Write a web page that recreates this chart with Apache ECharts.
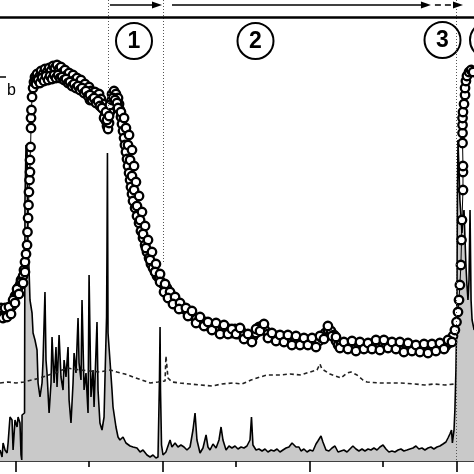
<!DOCTYPE html>
<html>
<head>
<meta charset="utf-8">
<script src="https://cdn.jsdelivr.net/npm/echarts@6/dist/echarts.min.js"></script>
<style>
  html, body { margin: 0; padding: 0; background: #fff; }
  #chart { width: 474px; height: 474px; }
</style>
</head>
<body>
<div id="chart"></div>
<script>
// time axis in scans, signals in arbitrary units
const majorTicks = [0, 100, 200, 300];
const minorTicks = [50, 150, 250];
const phaseLabels = ['1', '2', '3'];
const phaseBounds = [63.1, 100.2, 299.5];

// circles: main trace of the scan
const circleTime = [
  -10.7, -9.3, -8.0, -6.6, -5.2, -3.9, -2.5, -1.2, -0.5, 0.9,
  1.6, 2.9, 3.6, 5.0, 5.6, 6.3, 7.0, 7.7, 8.0, 8.4,
  8.7, 9.0, 9.4, 9.7, 9.7, 10.1, 10.4, 10.4, 10.7, 11.1,
  11.8, 12.4, 13.1, 13.8, 14.5, 15.9, 17.2, 18.6, 19.9, 21.3,
  22.7, 24.0, 25.4, 26.7, 28.1, 29.5, 30.8, 32.2, 33.5, 34.9,
  36.3, 37.6, 39.0, 40.3, 41.7, 43.1, 44.4, 45.8, 47.1, 48.5,
  49.9, 50.5, 51.2, 52.6, 53.9, 55.3, 56.7, 58.0, 59.4, 60.1,
  60.7, 61.4, 62.1, 62.8, 63.5, 64.1, 64.8, 65.5, 66.9, 68.2,
  69.6, 70.3, 70.9, 71.6, 72.3, 73.0, 73.7, 74.3, 75.0, 75.7,
  76.4, 77.1, 77.8, 78.4, 79.1, 79.8, 81.2, 82.5, 83.9, 85.2,
  86.6, 88.0, 89.3, 90.7, 92.0, 93.4, 94.8, 96.1, 97.5, 98.8,
  100.2, 101.6, 102.9, 104.3, 106.3, 108.4, 110.4, 112.4, 114.5, 116.5,
  118.6, 120.6, 122.8, 124.8, 126.7, 128.8, 130.8, 132.9, 134.9, 137.0,
  139.0, 141.0, 143.1, 145.1, 147.1, 149.2, 151.2, 153.3, 155.3, 157.3,
  159.4, 161.4, 163.5, 165.5, 167.6, 169.6, 171.6, 173.7, 175.7, 177.8,
  179.8, 181.8, 183.9, 185.9, 188.0, 190.0, 192.1, 194.1, 196.1, 198.2,
  200.2, 202.2, 204.3, 206.3, 208.4, 210.5, 212.5, 214.5, 216.6, 217.9,
  219.3, 221.3, 223.3, 225.4, 227.4, 229.4, 231.5, 233.5, 235.6, 237.6,
  239.7, 241.7, 243.7, 245.8, 247.8, 249.9, 251.9, 253.9, 256.0, 258.0,
  260.1, 262.1, 264.1, 266.2, 268.2, 270.3, 272.3, 274.3, 276.4, 278.4,
  280.5, 282.5, 284.5, 286.6, 288.6, 290.7, 292.7, 294.8, 296.1, 297.5,
  298.8, 299.9, 300.9, 301.6, 302.2, 302.9, 303.3, 303.6, 304.3, 304.3,
  304.3, 304.0, 304.0, 304.0, 304.0, 304.3, 305.0, 305.7, 305.7, 306.3,
  307.0, 308.4, 309.8, 311.2
];
const circleValue = [
  37.0, 36.25, 37.5, 36.5, 37.75, 37.0, 38.75, 39.75, 41.25, 42.0,
  43.25, 44.0, 45.25, 46.25, 47.75, 49.75, 51.75, 54.0, 57.25, 60.75,
  64.0, 67.25, 70.25, 72.25, 75.25, 78.5, 83.25, 85.75, 87.75, 91.0,
  93.25, 94.75, 96.0, 95.25, 96.75, 96.0, 97.5, 96.75, 98.0, 97.25,
  98.25, 97.5, 98.75, 98.25, 99.0, 98.0, 98.5, 97.25, 97.75, 96.5,
  97.0, 95.75, 96.5, 95.25, 95.75, 94.5, 95.25, 93.75, 94.25, 93.0,
  93.5, 90.25, 92.5, 91.75, 92.25, 91.25, 91.75, 90.5, 89.25, 87.75,
  86.25, 85.0, 83.75, 83.0, 84.5, 87.25, 89.75, 91.75, 92.5, 91.75,
  90.75, 89.25, 87.75, 86.0, 84.25, 82.5, 80.75, 79.0, 77.25, 75.5,
  73.75, 72.0, 70.25, 68.5, 66.75, 65.0, 63.25, 61.25, 59.5, 57.5,
  55.75, 54.0, 52.25, 50.75, 49.25, 48.25, 47.25, 46.25, 45.75, 44.75,
  44.25, 42.75, 43.25, 41.75, 41.25, 40.25, 39.5, 38.75, 38.0, 37.5,
  36.75, 36.25, 35.5, 35.25, 34.5, 34.75, 33.75, 34.0, 33.25, 33.5,
  32.75, 33.25, 32.25, 33.0, 32.0, 33.0, 31.75, 32.5, 31.5, 31.0,
  30.5, 31.0, 32.0, 33.5, 33.75, 32.75, 31.75, 31.25, 30.75, 31.25,
  30.5, 31.0, 30.25, 30.75, 30.0, 30.5, 29.75, 30.25, 29.75, 30.25,
  29.5, 30.0, 29.5, 30.0, 30.75, 32.0, 32.75, 32.5, 31.5, 30.0,
  29.0, 29.25, 28.75, 29.25, 28.75, 29.0, 28.5, 29.0, 28.5, 29.0,
  28.5, 29.25, 28.75, 29.25, 28.75, 29.5, 29.0, 29.5, 28.75, 29.25,
  28.5, 29.0, 28.25, 28.75, 28.25, 28.75, 28.0, 28.5, 28.0, 28.5,
  28.0, 28.5, 28.25, 28.75, 28.5, 29.0, 28.75, 29.5, 30.25, 31.25,
  32.75, 34.75, 37.25, 40.25, 44.0, 49.0, 55.25, 60.25, 67.75, 72.25,
  73.75, 79.5, 82.0, 84.0, 85.75, 87.25, 89.25, 91.5, 93.25, 95.0,
  96.25, 97.25, 97.75, 97.25
];

// circles: repeat readings that thicken the band
const repeatTime = [
  -10.0, -8.6, -7.3, -5.9, -4.6, -3.2, -1.8, -0.5, 0.9, 2.2,
  3.6, 5.0, 6.3,
  13.8, 15.2, 16.5, 17.9, 19.3, 20.6, 22.0, 23.3, 24.7, 26.1,
  27.4, 28.8, 30.1, 31.5, 32.9, 34.2, 35.6, 36.9, 38.3, 39.7,
  41.0, 42.4, 43.7, 45.1, 46.5, 47.8, 49.2, 50.5, 51.9, 53.3,
  54.6, 56.0, 57.3, 58.7,
  60.1, 61.4, 62.1, 63.5, 64.1, 65.5, 66.2, 67.6, 68.9, 69.6,
  71.6, 73.7, 75.0, 77.1, 76.4, 79.1, 77.8, 80.5, 79.1, 81.8,
  80.5, 83.9, 82.5, 85.9, 84.6, 88.0, 86.6, 90.0, 88.6, 92.7,
  91.4, 95.4, 94.8, 98.2, 98.2, 101.6, 100.9, 105.0, 103.6, 108.4,
  107.0, 111.8, 111.1, 115.8,
  117.2, 119.9, 122.7, 125.4, 128.1, 130.8, 133.5, 136.3, 139.0, 141.7,
  144.4, 147.1, 149.9, 152.6, 155.3, 158.0, 160.7, 163.5, 166.2, 168.9,
  171.6, 174.3, 177.1, 179.8, 182.5, 185.2, 187.9, 190.7, 193.4, 196.1,
  198.8, 201.6, 204.3, 207.0, 209.7, 212.4, 215.2, 217.9, 220.6, 223.3,
  226.0, 228.8, 231.5, 234.2, 236.9, 239.7, 242.4, 245.1, 247.8, 250.5,
  253.3, 256.0, 258.7, 261.4, 264.1, 266.9, 269.6, 272.3, 275.0, 277.8,
  280.5, 283.2, 285.9, 288.6, 291.4, 294.1, 296.8
];
const repeatValue = [
  38.25, 35.75, 38.25, 36.0, 38.5, 36.75, 40.25, 39.5, 43.0, 41.75,
  44.75, 44.5, 47.25,
  94.25, 95.25, 94.5, 95.75, 95.0, 96.25, 95.25, 96.25, 95.5, 96.5,
  95.75, 96.5, 95.75, 96.0, 95.25, 95.5, 94.5, 94.75, 93.75, 94.25,
  93.25, 93.75, 92.75, 93.25, 92.0, 92.5, 91.25, 91.5, 90.25, 90.75,
  89.5, 90.0, 88.75, 88.25,
  85.75, 87.25, 85.25, 86.25, 89.0, 90.25, 90.75, 90.25, 89.5, 88.25,
  87.25, 85.75, 83.25, 81.5, 79.0, 77.75, 75.25, 73.75, 71.25, 69.75,
  67.75, 66.25, 63.75, 62.25, 60.25, 58.75, 56.75, 55.25, 53.25, 52.25,
  50.25, 49.25, 47.25, 46.75, 44.75, 44.25, 42.25, 42.25, 40.75, 41.0,
  39.25, 39.5, 38.0, 38.25,
  36.25, 37.5, 34.5, 36.0, 33.75, 34.75, 32.75, 34.5, 31.75, 34.0,
  31.75, 33.0, 31.75, 33.25, 30.5, 31.75, 29.75, 33.0, 32.5, 34.25,
  30.75, 32.0, 30.0, 31.5, 29.75, 31.5, 29.0, 31.25, 29.0, 30.75,
  29.0, 30.75, 28.5, 31.25, 30.5, 33.75, 31.25, 31.0, 28.25, 29.75,
  28.0, 30.0, 27.5, 29.75, 28.0, 29.5, 28.0, 30.25, 27.75, 30.25,
  28.25, 29.75, 28.0, 29.75, 27.25, 29.5, 27.5, 29.0, 27.25, 29.25,
  27.0, 29.25, 27.5, 29.5, 28.0, 30.25, 29.75
];

// grey-filled signal
const traceTime = [
  -10.7, -9.3, -8.6, -7.3, -5.9, -5.2, -3.9, -2.5, -1.8, -0.5,
  0.9, 1.6, 2.9, 3.6, 4.1, 4.3, 6.0, 6.3, 7.0, 7.7,
  8.4, 9.0, 9.7, 11.1, 11.8, 13.1, 14.5, 15.2, 16.5, 17.9,
  18.6, 19.9, 20.6, 21.3, 22.7, 24.0, 24.7, 26.1, 27.4, 28.1,
  29.5, 30.8, 32.2, 32.9, 34.2, 35.6, 36.3, 37.6, 39.0, 39.7,
  41.0, 42.4, 43.1, 44.4, 45.1, 46.5, 47.8, 49.2, 49.9, 51.2,
  52.6, 53.3, 55.3, 56.0, 57.3, 58.7, 60.1, 60.7, 61.8, 62.1,
  62.4, 62.8, 64.1, 65.5, 66.2, 68.2, 69.6, 70.9, 73.0, 75.0,
  77.8, 79.8, 82.5, 84.6, 86.6, 89.3, 91.4, 93.4, 95.4, 96.8,
  97.8, 98.2, 98.5, 99.2, 100.2, 102.2, 105.0, 106.3, 108.4, 110.4,
  112.4, 114.5, 116.5, 118.6, 120.6, 122.0, 123.3, 125.4, 127.4, 129.5,
  130.8, 132.2, 134.2, 136.3, 138.3, 139.7, 141.0, 143.1, 145.1, 147.1,
  149.2, 151.2, 153.3, 155.3, 157.3, 159.4, 160.4, 161.4, 163.5, 165.5,
  167.6, 169.6, 171.6, 173.7, 175.7, 177.8, 179.8, 181.8, 183.9, 185.9,
  188.0, 189.3, 190.7, 192.7, 194.1, 196.1, 198.2, 200.2, 202.2, 204.3,
  205.6, 207.7, 209.0, 211.1, 213.1, 215.2, 217.2, 219.3, 221.3, 223.3,
  225.4, 227.4, 229.4, 231.5, 233.5, 235.6, 237.6, 239.7, 241.7, 243.7,
  245.8, 247.8, 249.9, 251.9, 253.9, 256.0, 258.0, 260.1, 262.1, 264.1,
  266.2, 268.2, 270.3, 272.3, 274.3, 276.4, 278.4, 280.5, 282.5, 284.5,
  286.6, 288.6, 290.7, 292.7, 294.1, 295.4, 296.5, 297.1, 298.2, 298.8,
  299.5, 300.2, 300.5, 300.9, 301.6, 302.2, 302.9, 303.6, 304.3, 305.0,
  305.7, 306.3, 307.0, 307.7, 308.4, 309.1, 309.8, 310.5, 311.9
];
const traceValue = [
  2.75, 1.0, 4.5, 2.75, 2.0, 4.5, 11.0, 10.25, 2.75, 10.25,
  8.5, 11.0, 9.5, 1.5, 0.25, 11.5, 12.0, 65.25, 79.0, 78.25,
  52.75, 48.5, 40.25, 37.0, 32.0, 30.25, 27.75, 19.5, 16.0, 19.5,
  25.25, 42.25, 25.25, 22.0, 12.0, 19.5, 31.0, 19.5, 28.5, 18.5,
  31.5, 21.0, 17.75, 25.25, 21.0, 28.5, 15.25, 9.5, 19.5, 27.0,
  22.0, 35.75, 24.5, 20.25, 40.25, 17.75, 22.0, 12.0, 46.5, 16.0,
  22.75, 13.5, 34.75, 17.75, 9.5, 7.75, 11.0, 20.25, 36.0, 52.75,
  77.0, 32.0, 25.25, 17.75, 13.5, 8.5, 6.0, 5.25, 6.0, 4.5,
  3.75, 3.5, 3.25, 2.25, 2.75, 1.5, 1.0, 1.5, 0.75, 1.0,
  20.25, 33.5, 17.75, 4.0, 1.5, 2.25, 5.25, 3.5, 4.5, 3.5,
  4.0, 3.5, 2.75, 3.5, 7.75, 12.0, 5.25, 2.0, 3.25, 6.5,
  3.5, 2.75, 4.25, 3.25, 5.25, 8.5, 5.25, 2.75, 3.75, 3.25,
  3.75, 3.0, 3.5, 3.25, 3.75, 5.25, 11.0, 4.0, 2.75, 3.0,
  2.5, 3.0, 2.25, 2.75, 2.5, 3.0, 2.25, 2.75, 3.25, 3.5,
  4.5, 5.0, 3.5, 3.5, 2.5, 3.0, 2.25, 2.75, 2.5, 4.25,
  5.0, 6.25, 4.75, 2.75, 2.5, 3.25, 3.75, 2.25, 2.5, 2.75,
  2.25, 3.0, 3.75, 3.0, 2.5, 3.0, 2.5, 3.0, 2.75, 3.25,
  2.75, 3.5, 4.0, 3.0, 2.25, 2.5, 2.25, 2.75, 3.0, 2.5,
  2.75, 3.0, 3.25, 3.75, 3.0, 3.25, 2.75, 3.25, 3.5, 3.0,
  3.5, 3.75, 4.25, 4.75, 5.75, 6.75, 7.75, 4.5, 7.75, 12.75,
  22.75, 40.25, 65.25, 80.25, 72.75, 65.25, 61.5, 57.0, 60.75, 62.75,
  55.25, 49.0, 44.0, 40.25, 45.25, 62.75, 40.25, 35.25, 32.75
];

// dashed reference line
const dashTime = [
  -10.7, -5.2, 0.2, 5.6, 16.5, 26.7, 34.9, 43.7, 50.5, 57.3,
  64.1, 68.9, 74.3, 79.8, 85.9, 91.4, 96.8, 101.6, 102.2, 102.9,
  103.6, 106.3, 111.8, 118.6, 125.4, 133.5, 140.3, 147.8, 153.9, 160.1,
  166.2, 171.0, 179.8, 186.6, 194.1, 200.2, 205.0, 207.0, 208.3, 213.8,
  221.3, 225.4, 228.1, 232.2, 236.2, 239.0, 247.8, 254.6, 262.1, 271.6,
  278.4, 284.5, 292.0, 298.8
];
const dashValue = [
  19.5, 19.75, 19.5, 19.75, 20.75, 22.0, 23.25, 22.75, 22.5, 22.25,
  22.75, 22.25, 21.75, 21.0, 20.25, 19.5, 19.75, 20.0, 26.25, 26.0,
  20.75, 19.75, 19.5, 19.25, 19.0, 18.75, 19.25, 19.5, 19.25, 20.25,
  21.0, 21.5, 21.5, 21.75, 21.5, 22.25, 22.75, 24.25, 23.0, 21.75,
  20.75, 22.0, 22.25, 21.5, 20.25, 19.75, 19.5, 19.5, 19.5, 19.25,
  19.0, 19.25, 19.0, 19.25
];

const zip = (xs, ys) => xs.map((x, i) => [x, ys[i]]);

const chart = echarts.init(document.getElementById('chart'), null, { renderer: 'canvas' });

const xMin = -10.7, xMax = 311.8, yMax = 115.25;
const arrowY = 114;
const numFont = 'bold 23px "Liberation Sans", Arial, sans-serif';
const ring = { fill: 'none', stroke: '#000', lineWidth: 2 };
const circleStyle = { color: '#fff', borderColor: '#000', borderWidth: 2.3 };

const option = {
  animation: false,
  backgroundColor: '#fff',
  grid: { left: 0, right: 0, top: 0, bottom: 13 },
  xAxis: [
    {
      type: 'value', min: xMin, max: xMax, position: 'bottom',
      axisLine: { show: true, onZero: false, lineStyle: { color: '#000', width: 1.6 } },
      axisTick: { show: true, customValues: majorTicks, length: 11, lineStyle: { color: '#000', width: 1.6 } },
      axisLabel: { show: false },
      splitLine: { show: false }
    },
    {
      type: 'value', min: xMin, max: xMax, position: 'bottom',
      axisLine: { show: false, onZero: false },
      axisTick: { show: true, customValues: minorTicks, length: 6, lineStyle: { color: '#000', width: 1.6 } },
      axisLabel: { show: false },
      splitLine: { show: false }
    }
  ],
  yAxis: { type: 'value', min: 0, max: yMax, show: false },
  graphic: [
    { type: 'circle', shape: { cx: 134, cy: 41, r: 18 }, style: ring },
    { type: 'circle', shape: { cx: 255.5, cy: 41, r: 18 }, style: ring },
    { type: 'circle', shape: { cx: 442.5, cy: 40, r: 18 }, style: ring },
    { type: 'circle', shape: { cx: 488, cy: 40, r: 18 }, style: ring },
    { type: 'text', x: 134, y: 42, style: { text: phaseLabels[0], font: numFont, fill: '#000', align: 'center', verticalAlign: 'middle' } },
    { type: 'text', x: 255.5, y: 42, style: { text: phaseLabels[1], font: numFont, fill: '#000', align: 'center', verticalAlign: 'middle' } },
    { type: 'text', x: 442.5, y: 41, style: { text: phaseLabels[2], font: numFont, fill: '#000', align: 'center', verticalAlign: 'middle' } },
    { type: 'line', shape: { x1: 0, y1: 77, x2: 6, y2: 77 }, style: { stroke: '#000', lineWidth: 1.5 } },
    { type: 'text', x: 7, y: 83, style: { text: 'b', font: '16px "Liberation Sans", Arial, sans-serif', fill: '#000' } }
  ],
  series: [
    {
      // phase boundaries and top frame line
      type: 'line', data: [], z: 1, silent: true,
      markLine: {
        silent: true, symbol: ['none', 'none'], label: { show: false },
        animation: false,
        data: [
          [{ coord: [phaseBounds[0], yMax], lineStyle: { type: [1, 2], color: '#555', width: 1 } }, { coord: [phaseBounds[0], 88] }],
          [{ coord: [phaseBounds[1], yMax], lineStyle: { type: [1, 2], color: '#555', width: 1 } }, { coord: [phaseBounds[1], 49.75] }],
          [{ coord: [phaseBounds[2], yMax], lineStyle: { type: [1, 2], color: '#555', width: 1 } }, { coord: [phaseBounds[2], 0] }],
          [{ coord: [xMin, 111], lineStyle: { type: 'solid', color: '#000', width: 2.5 } }, { coord: [xMax, 111] }],
          [{ coord: [307.0, arrowY], lineStyle: { type: 'solid', color: '#000', width: 1.5 } }, { coord: [312.5, arrowY] }]
        ]
      }
    },
    {
      // phase arrows
      type: 'line', data: [], z: 1, silent: true,
      markLine: {
        silent: true, symbol: ['none', 'triangle'], symbolSize: [7, 10], label: { show: false },
        animation: false,
        data: [
          [{ coord: [64.1, arrowY], lineStyle: { type: 'solid', color: '#000', width: 1.5 } }, { coord: [96.1, arrowY] }],
          [{ coord: [106.3, arrowY], lineStyle: { type: 'solid', color: '#000', width: 1.5 } }, { coord: [279.1, arrowY] }],
          [{ coord: [285.2, arrowY], lineStyle: { type: [6, 4], color: '#000', width: 1.5 } }, { coord: [300.9, arrowY] }]
        ]
      }
    },
    {
      name: 'signal',
      type: 'line', z: 2,
      data: zip(traceTime, traceValue),
      showSymbol: false,
      lineStyle: { color: '#000', width: 1.6 },
      areaStyle: { color: '#c9c9c9', opacity: 1 }
    },
    {
      name: 'baseline',
      type: 'line', z: 3,
      data: zip(dashTime, dashValue),
      showSymbol: false,
      lineStyle: { color: '#222', width: 1.6, type: [4, 3] }
    },
    {
      name: 'circles',
      type: 'line', z: 4,
      data: zip(circleTime, circleValue),
      symbol: 'circle', symbolSize: 8.5, showSymbol: true, showAllSymbol: true,
      lineStyle: { color: '#000', width: 1 },
      itemStyle: circleStyle
    },
    {
      name: 'circles repeat',
      type: 'line', z: 4,
      data: zip(repeatTime, repeatValue),
      symbol: 'circle', symbolSize: 8.5, showSymbol: true, showAllSymbol: true,
      lineStyle: { opacity: 0 },
      itemStyle: circleStyle
    }
  ]
};
chart.setOption(option);
</script>
</body>
</html>
